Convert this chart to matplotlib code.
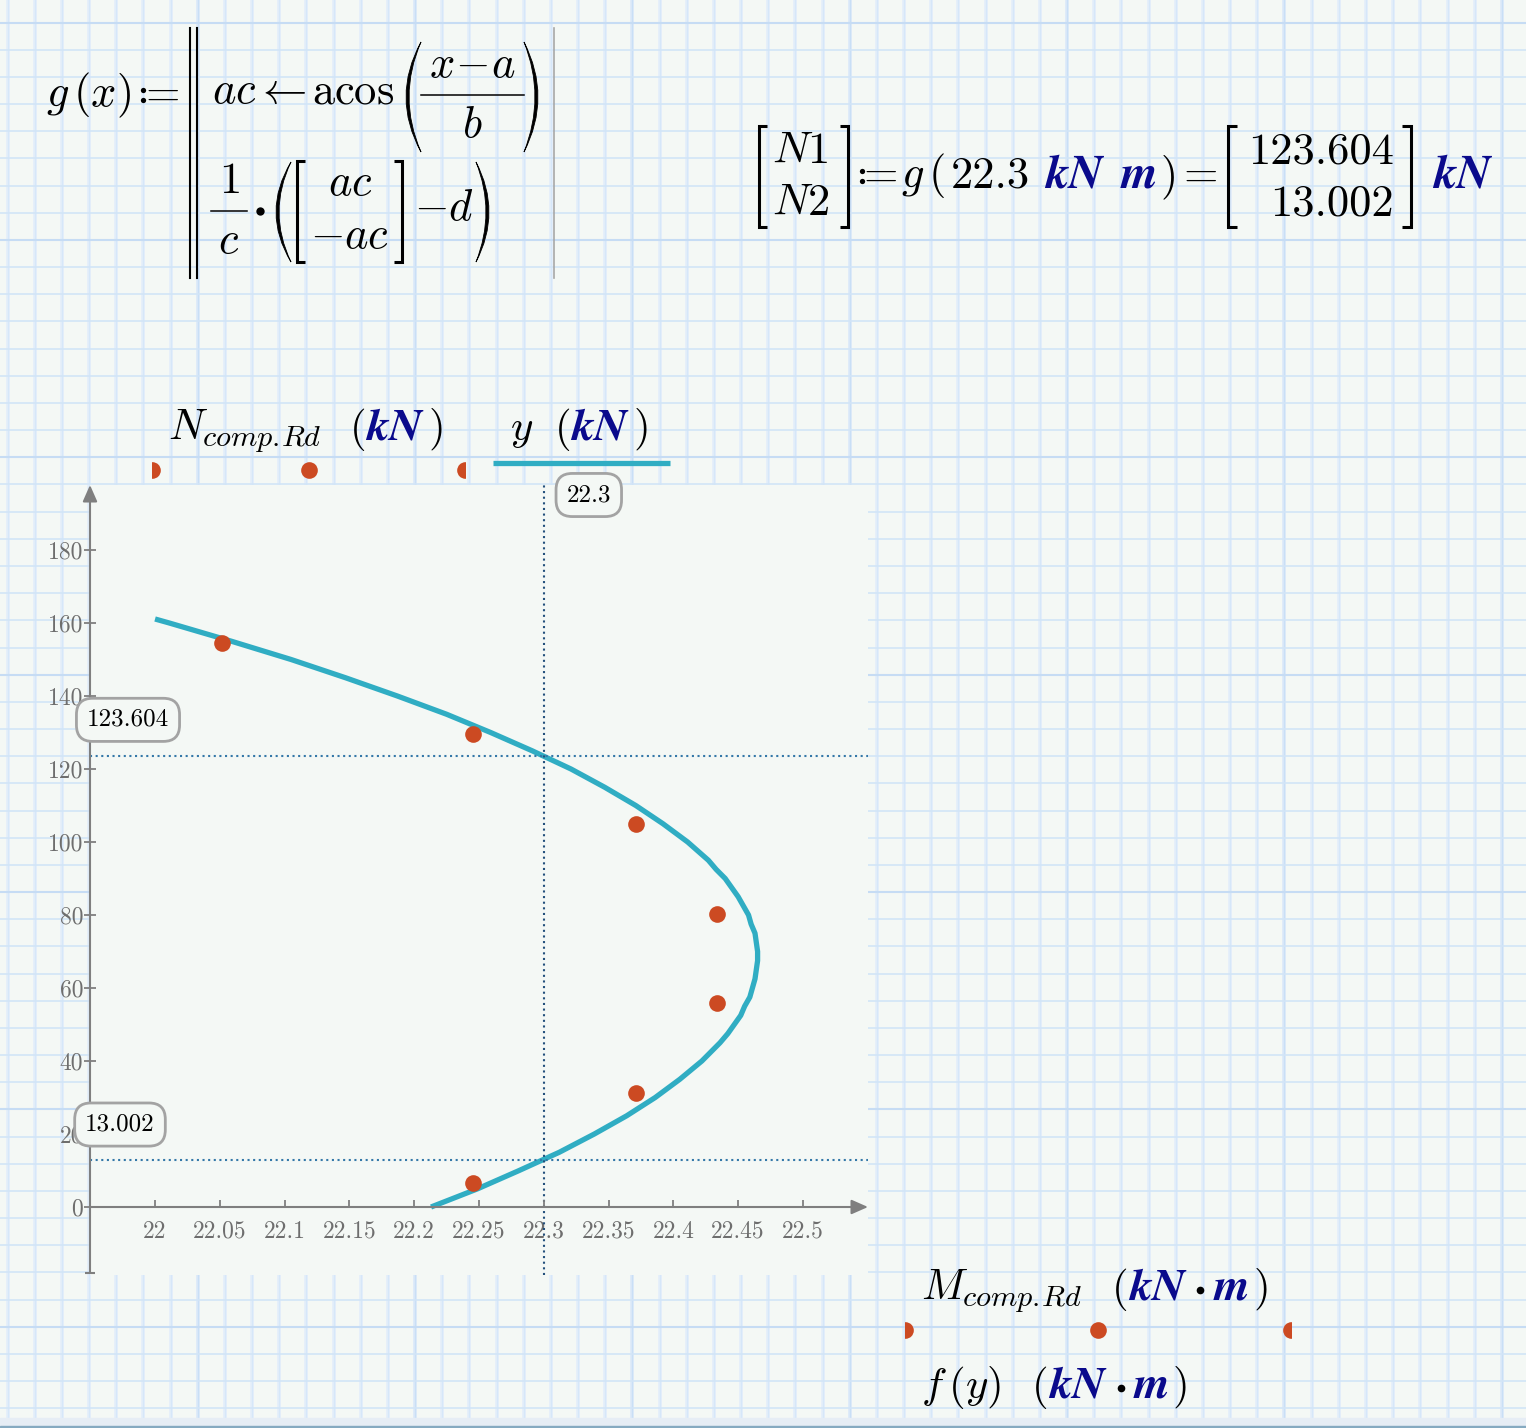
import matplotlib
matplotlib.use("Agg")
import matplotlib.pyplot as plt
from matplotlib.path import Path
from matplotlib.patches import PathPatch, Rectangle

plt.rcParams['mathtext.fontset'] = 'cm'
plt.rcParams['axes.formatter.use_mathtext'] = True

# ---------------- data ----------------
# measured (scatter) points
M_pts = [22.052, 22.245, 22.371, 22.434, 22.434, 22.371, 22.245]
N_pts = [154.4, 129.6, 104.9, 80.3, 55.8, 31.2, 6.6]

# fitted curve f(y)
N_curve = [0, 5, 10, 15, 20, 25, 30, 35, 40, 45, 47.5, 50, 52.5, 55, 57.5,
           60, 62.5, 65, 67.5, 70, 72.5, 75, 77.5, 80, 82.5, 85, 87.5, 90,
           92.5, 95, 100, 105, 110, 115, 120, 125, 130, 135, 140, 145, 150,
           155, 160, 161.1]
M_curve = [22.213, 22.249, 22.281, 22.312, 22.339, 22.364, 22.386, 22.405,
           22.422, 22.436, 22.442, 22.447, 22.452, 22.455, 22.459, 22.461,
           22.463, 22.464, 22.465, 22.465, 22.464, 22.463, 22.460, 22.458,
           22.454, 22.450, 22.445, 22.440, 22.433, 22.427, 22.411, 22.392,
           22.371, 22.347, 22.321, 22.291, 22.259, 22.225, 22.187, 22.147,
           22.105, 22.059, 22.011, 22.000]

M_query = 22.3
N1, N2 = 123.604, 13.002

x_ticks = [22.0, 22.05, 22.1, 22.15, 22.2, 22.25, 22.3, 22.35, 22.4, 22.45, 22.5]
x_tick_labels = ['22', '22.05', '22.1', '22.15', '22.2', '22.25', '22.3',
                 '22.35', '22.4', '22.45', '22.5']
y_ticks = [0, 20, 40, 60, 80, 100, 120, 140, 160, 180]
y_tick_labels = ['0', '20', '40', '60', '80', '100', '120', '140', '160', '180']

# ---------------- style ----------------
W, H = 1526, 1428
PAPER = '#f4f8f5'
TEAL = '#30adc3'
RED = '#cc4a22'
GREY = '#7f7f7f'
TICKGREY = '#6e6e6e'
BLUE = '#0a0a8c'
F = 32
UF = 34

fig = plt.figure(figsize=(W / 100, H / 100), dpi=100)
fig.patch.set_facecolor(PAPER)

# background "paper" axes in pixel coordinates (y downwards)
bg = fig.add_axes([0, 0, 1, 1])
bg.set_xlim(0, W)
bg.set_ylim(H, 0)
bg.axis('off')
bg.set_zorder(0)

sp = 27.17
k = 0
while 7.5 + sp * k < W:
    xv = 7.5 + sp * k
    major = (k % 8 == 7)
    bg.axvline(xv, color='#e3eefa' if not major else '#dbe9f9', lw=2.6, zorder=0)
    bg.axvline(xv, color='#d6e7f9' if not major else '#c9dff6', lw=0.9, zorder=0)
    k += 1
k = 0
while 22.6 + sp * k < H:
    yh = 22.6 + sp * k
    major = (k % 8 == 0)
    bg.axhline(yh, color='#d2e5f7' if not major else '#c6dcf4',
               lw=1.2 if not major else 1.5, zorder=0)
    k += 1
bg.add_patch(Rectangle((0, 1418), W, 8, color='#e6edf5', zorder=1))
bg.add_patch(Rectangle((0, 1425.5), W, 3, color='#86aac1', zorder=1))


def txt(x, y, s, ha='left', size=F, color='k', **kw):
    return bg.text(x, y, s, ha=ha, va='baseline', fontsize=size, color=color,
                   zorder=5, **kw)


def rm(x, y, s, ha='left', size=F, color='k'):
    return txt(x, y, s, ha=ha, size=size, color=color, fontfamily='cmr10')


def unit(x, y, s, size=UF):
    return txt(x, y, s, size=size, color=BLUE, fontfamily='STIXGeneral',
               fontstyle='italic', fontweight='bold')


def defeq(x, y, size=F):
    axis_y = y - 11
    bg.plot([x + 3, x + 3], [axis_y - 5, axis_y + 5], 'o', color='k', ms=3.8,
            mew=0, zorder=5)
    rm(x + 5, y, '=', size=size)


def bracket(xs, xe, y0, y1, lw=2.2):
    bg.plot([xe, xs, xs, xe], [y0, y0, y1, y1], color='k', lw=lw,
            solid_joinstyle='miter', solid_capstyle='butt', zorder=5)


def paren(x_out, x_in, y0, y1, th=3.0):
    sgn = 1 if x_out < x_in else -1
    ym = (y0 + y1) / 2
    cxo = x_in + 2 * (x_out - x_in)
    cxi = x_in + 2 * (x_out + sgn * th - x_in)
    verts = [(x_in, y0), (cxo, ym), (x_in, y1), (cxi, ym), (x_in, y0), (x_in, y0)]
    codes = [Path.MOVETO, Path.CURVE3, Path.CURVE3, Path.CURVE3, Path.CURVE3,
             Path.CLOSEPOLY]
    bg.add_patch(PathPatch(Path(verts, codes), facecolor='k', edgecolor='k',
                           lw=0.6, zorder=5))


def bullet(x, y, ms=5.5):
    bg.plot([x], [y], 'o', color='k', ms=ms, mew=0, zorder=5)


# ---------------- formula 1 : g(x) := ... ----------------
txt(46, 106, r'$g\,(x)$')
defeq(140, 106)
bg.plot([190, 190], [28, 278], color='k', lw=1.5, zorder=5)
bg.plot([197, 197], [28, 278], color='k', lw=1.5, zorder=5)
bg.plot([554, 554], [28, 278], color='#a8a8a8', lw=1.2, zorder=5)
txt(212, 103, r'$ac$')
txt(255, 103, r'$\leftarrow$')
txt(312, 103, r'$\mathrm{acos}$')
paren(406, 421, 42, 152)
txt(472, 77, r'$x\!-\!a$', ha='center')
bg.plot([421, 524], [95, 95], color='k', lw=1.1, zorder=5)
txt(472, 137, r'$b$', ha='center')
paren(538, 524, 42, 152)

txt(229, 193, r'$1$', ha='center')
bg.plot([211, 247], [211, 211], color='k', lw=1.1, zorder=5)
txt(229, 253, r'$c$', ha='center')
bullet(260, 211, ms=6)
paren(276, 291, 162, 262)
bracket(297, 305, 161, 262)
txt(350, 195, r'$ac$', ha='center')
txt(350, 248, r'$-ac$', ha='center')
bracket(402, 394, 161, 262)
txt(414, 220, r'$-d$')
paren(489, 476, 162, 262)

# ---------------- formula 2 : [N1;N2] := g(22.3 kN m) = [...] kN ----------------
bracket(759, 767, 126, 227)
txt(772, 163, r'$N1$')
txt(772, 215, r'$N2$')
bracket(848, 840, 126, 227)
defeq(859, 187)
txt(901, 187, r'$g$')
rm(929, 187, '(')
rm(951, 187, '22.3')
unit(1045, 187, 'kN')
unit(1121, 187, 'm')
rm(1161, 187, ')')
rm(1184, 187, '=')
bracket(1228, 1237, 126, 227)
rm(1394, 163, '123.604', ha='right')
rm(1394, 215, '13.002', ha='right')
bracket(1411, 1402, 126, 227)
unit(1433, 187, 'kN')

# ---------------- legends ----------------
LF = 31
txt(168, 440, r'$N_{comp.\!Rd}$', size=LF)
rm(350, 440, '(', size=LF)
unit(366, 440, 'kN', size=UF - 1)
rm(429, 440, ')', size=LF)
txt(510, 440, r'$y$', size=LF)
rm(555, 440, '(', size=LF)
unit(571, 440, 'kN', size=UF - 1)
rm(634, 440, ')', size=LF)
bg.plot([493, 670], [463, 463], color=TEAL, lw=3.8, solid_capstyle='butt', zorder=5)

clip1 = Rectangle((152, 440), 465 - 152, 60, transform=bg.transData)
l1, = bg.plot([152, 308.5, 465], [470, 470, 470], 'o', color=RED, ms=12, mew=0, zorder=5)
l1.set_clip_path(clip1)

txt(921, 1300, r'$M_{comp.\!Rd}$', size=LF)
rm(1112, 1300, '(', size=LF)
unit(1129, 1300, 'kN', size=UF - 1)
bullet(1200, 1290)
unit(1214, 1300, 'm', size=UF - 1)
rm(1254, 1300, ')', size=LF)
clip2 = Rectangle((905, 1300), 1291 - 905, 60, transform=bg.transData)
l2, = bg.plot([905, 1098, 1291], [1329.5, 1329.5, 1329.5], 'o', color=RED, ms=12, mew=0, zorder=5)
l2.set_clip_path(clip2)

txt(921, 1398, r'$f\,(y)$', size=LF)
rm(1032, 1398, '(', size=LF)
unit(1049, 1398, 'kN', size=UF - 1)
bullet(1121, 1388)
unit(1134, 1398, 'm', size=UF - 1)
rm(1173, 1398, ')', size=LF)

# ---------------- plot ----------------
ax = fig.add_axes([90 / W, 1 - 1275 / H, (868 - 90) / W, (1275 - 485) / H])
ax.set_zorder(2)
ax.set_facecolor(PAPER)
x0, x1 = 21.9498, 22.5502
y0, y1 = -18.63, 197.81
ax.set_xlim(x0, x1)
ax.set_ylim(y0, y1)
for s in ax.spines.values():
    s.set_visible(False)

ax.plot(M_curve, N_curve, color=TEAL, lw=3.8, zorder=3, solid_capstyle='butt',
        solid_joinstyle='round')
ax.plot(M_pts, N_pts, 'o', color=RED, ms=12, mew=0, zorder=4)

ax.axhline(N1, color='#3478a8', lw=1.5, ls=(0, (1, 1.7)), zorder=5)
ax.axhline(N2, color='#3478a8', lw=1.5, ls=(0, (1, 1.7)), zorder=5)
ax.axvline(M_query, color='#23507c', lw=1.5, ls=(0, (1, 1.7)), zorder=5)

# axes with arrow heads
ax.annotate('', xy=(0, 1), xytext=(0, 0.0025), xycoords='axes fraction',
            arrowprops=dict(arrowstyle='-|>,head_length=0.5,head_width=0.22',
                            color=GREY, lw=1.5, shrinkA=0, shrinkB=0,
                            mutation_scale=20), annotation_clip=False, zorder=6)
ax.annotate('', xy=(1, 0), xytext=(0, 0), xycoords=ax.get_yaxis_transform(),
            arrowprops=dict(arrowstyle='-|>,head_length=0.5,head_width=0.22',
                            color=GREY, lw=1.5, shrinkA=0, shrinkB=0,
                            mutation_scale=20), annotation_clip=False, zorder=6)
ax.plot([0], [0.0025], marker='_', ms=7, mew=1.5, color=GREY,
        transform=ax.transAxes, clip_on=False, zorder=6)

ax.set_xticks([])
ax.set_yticks(y_ticks)
ax.set_yticklabels(y_tick_labels, fontfamily='cmr10', fontsize=17, color=TICKGREY)
ax.tick_params(axis='y', direction='inout', length=8, width=1.3, color=GREY, pad=1)

ax.plot(x_ticks, [0] * len(x_ticks), linestyle='none', marker=2, ms=5,
        mew=1.3, color=GREY, zorder=6)
for t, lbl in zip(x_ticks, x_tick_labels):
    ax.annotate(lbl, xy=(t, 0), xytext=(0, -17.6), textcoords='offset points',
                ha='center', va='center', fontfamily='cmr10', fontsize=17,
                color=TICKGREY, annotation_clip=False)

box = dict(boxstyle='round,pad=0.42,rounding_size=0.65', fc=PAPER, ec='#a3a3a3', lw=2.0)
ax.annotate(f'{N1:.3f}', xy=(x0, N1), xytext=(38, 36), textcoords='offset pixels',
            ha='center', va='center', fontfamily='cmr10', fontsize=18, color='k',
            bbox=box, annotation_clip=False, zorder=7)
ax.annotate(f'{N2:.3f}', xy=(x0, N2), xytext=(30, 35), textcoords='offset pixels',
            ha='center', va='center', fontfamily='cmr10', fontsize=18, color='k',
            bbox=box, annotation_clip=False, zorder=7)
ax.annotate(f'{M_query:g}', xy=(M_query, y1), xytext=(45, -10), textcoords='offset pixels',
            ha='center', va='center', fontfamily='cmr10', fontsize=18, color='k',
            bbox=box, annotation_clip=False, zorder=7)

fig.savefig('out.png', dpi=100, facecolor=PAPER)
